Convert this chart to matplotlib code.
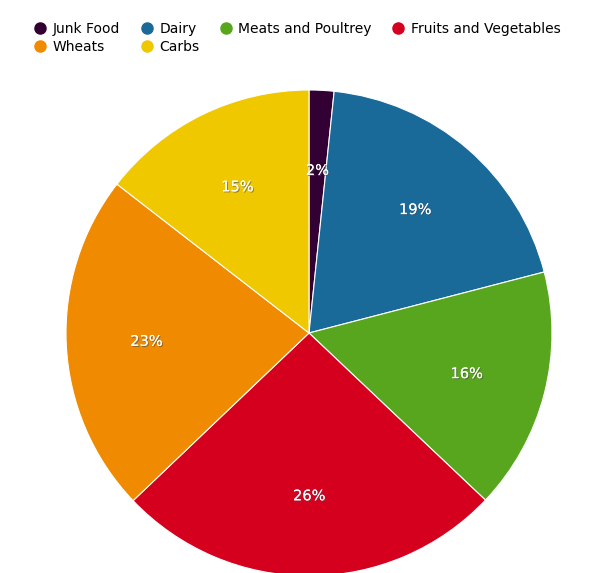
import matplotlib
matplotlib.use("Agg")
import matplotlib.pyplot as plt
import matplotlib.patheffects as pe
from matplotlib.lines import Line2D

categories = ["Junk Food", "Dairy", "Meats and Poultrey", "Fruits and Vegetables", "Wheats", "Carbs"]
values = [1.65, 19.3, 16.1, 25.8, 22.6, 14.5]
labels = ["2%", "19%", "16%", "26%", "23%", "15%"]
colors = ["#330033", "#1a6a99", "#58a61e", "#d4001e", "#f08a00", "#f0c800"]

fig = plt.figure(figsize=(6.12, 5.73), dpi=100)
ax = fig.add_axes([66/612, -3/573, 486/612, 486/573])
wedges, _ = ax.pie(values, colors=colors, startangle=90, counterclock=False, radius=1,
                   wedgeprops=dict(linewidth=0.8, edgecolor="white"))
import numpy as np
tot = sum(values)
cum = 0
for v, lab in zip(values, labels):
    mid = (cum + v / 2) / tot
    ang = np.deg2rad(90 - 360 * mid)
    ax.text(0.67 * np.cos(ang), 0.67 * np.sin(ang), lab, ha="center", va="center",
            color="white", fontsize=10.5,
            path_effects=[pe.withSimplePatchShadow(offset=(0.8, -0.8), alpha=0.6), pe.Normal()])
    cum += v
ax.set_xlim(-1, 1); ax.set_ylim(-1, 1); ax.set_aspect("equal"); ax.axis("off")

order = [0, 4, 1, 5, 2, 3]
handles = [Line2D([], [], marker="o", linestyle="", markersize=8, color=colors[i]) for i in order]
fig.legend(handles, [categories[i] for i in order], ncol=4, loc="upper left",
           bbox_to_anchor=(28/612, 1 - 16/573), frameon=False, fontsize=10,
           handletextpad=0.4, columnspacing=1.4, labelspacing=0.3, borderaxespad=0, handlelength=1)
fig.savefig("out.png", dpi=100)
